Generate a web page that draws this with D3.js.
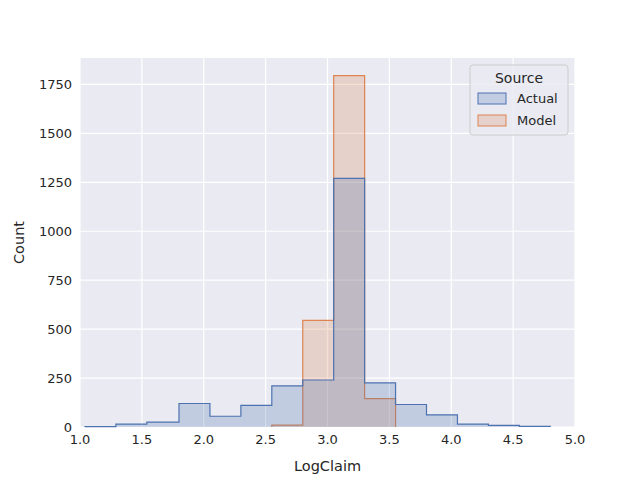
<!DOCTYPE html><html><head><script src="https://cdn.jsdelivr.net/npm/d3@7"></script>
<style>body{margin:0;background:#fff}text{font-family:"DejaVu Sans",Arial,sans-serif}</style></head><body>
<svg id="c" width="640" height="480"></svg>
<script>
const edges=[1.04,1.29,1.54,1.80,2.05,2.30,2.55,2.80,3.05,3.30,3.55,3.80,4.05,4.30,4.55,4.80];
const actual=[2,15,25,120,55,110,210,240,1270,225,115,62,15,8,3];
const modelEdges=[2.55,2.80,3.05,3.30,3.55];
const model=[10,545,1795,145];
const xTicks=[1.0,1.5,2.0,2.5,3.0,3.5,4.0,4.5,5.0];
const yTicks=[0,250,500,750,1000,1250,1500,1750];
const svg=d3.select("#c");
const L=80,R=575,T=58,B=427;
const x=d3.scaleLinear().domain([1,5]).range([L,R]);
const y=d3.scaleLinear().domain([0,1885]).range([B,T]);
svg.append("rect").attr("x",L).attr("y",T).attr("width",R-L).attr("height",B-T).attr("fill","#EAEAF2");
const g=svg.append("g");
xTicks.forEach(t=>g.append("line").attr("x1",x(t)).attr("x2",x(t)).attr("y1",T).attr("y2",B).attr("stroke","#fff").attr("stroke-width",1.2));
yTicks.forEach(t=>g.append("line").attr("x1",L).attr("x2",R).attr("y1",y(t)).attr("y2",y(t)).attr("stroke","#fff").attr("stroke-width",1.2));
function step(ed,vals,col){
  let p=[[x(ed[0]),y(0)]];
  vals.forEach((v,i)=>{p.push([x(ed[i]),y(v)]);p.push([x(ed[i+1]),y(v)]);});
  p.push([x(ed[ed.length-1]),y(0)]);
  svg.append("path").attr("d",d3.line()(p)).attr("fill",col).attr("fill-opacity",0.25).attr("stroke",col).attr("stroke-width",1.2);
}
step(modelEdges,model,"#DD8452");
step(edges,actual,"#4C72B0");
xTicks.forEach(t=>svg.append("text").attr("x",x(t)).attr("y",B+17).attr("text-anchor","middle").attr("font-size",13).attr("fill","#262626").text(t.toFixed(1)));
yTicks.forEach(t=>svg.append("text").attr("x",L-8).attr("y",y(t)+4.5).attr("text-anchor","end").attr("font-size",13).attr("fill","#262626").text(t));
svg.append("text").attr("x",(L+R)/2).attr("y",471).attr("text-anchor","middle").attr("font-size",14.5).attr("fill","#262626").text("LogClaim");
svg.append("text").attr("transform",`translate(24,${(T+B)/2}) rotate(-90)`).attr("text-anchor","middle").attr("font-size",14.5).attr("fill","#262626").text("Count");
const lg=svg.append("g");
lg.append("rect").attr("x",470).attr("y",65).attr("width",98).attr("height",70).attr("rx",3).attr("fill","#EAEAF2").attr("fill-opacity",0.8).attr("stroke","#ccc");
lg.append("text").attr("x",519).attr("y",83).attr("text-anchor","middle").attr("font-size",14).attr("fill","#262626").text("Source");
[["Actual","#4C72B0"],["Model","#DD8452"]].forEach((d,i)=>{
  const yy=93+i*22;
  lg.append("rect").attr("x",478).attr("y",yy).attr("width",28).attr("height",11).attr("fill",d[1]).attr("fill-opacity",0.25).attr("stroke",d[1]);
  lg.append("text").attr("x",517).attr("y",yy+10).attr("font-size",13).attr("fill","#262626").text(d[0]);
});
</script></body></html>
